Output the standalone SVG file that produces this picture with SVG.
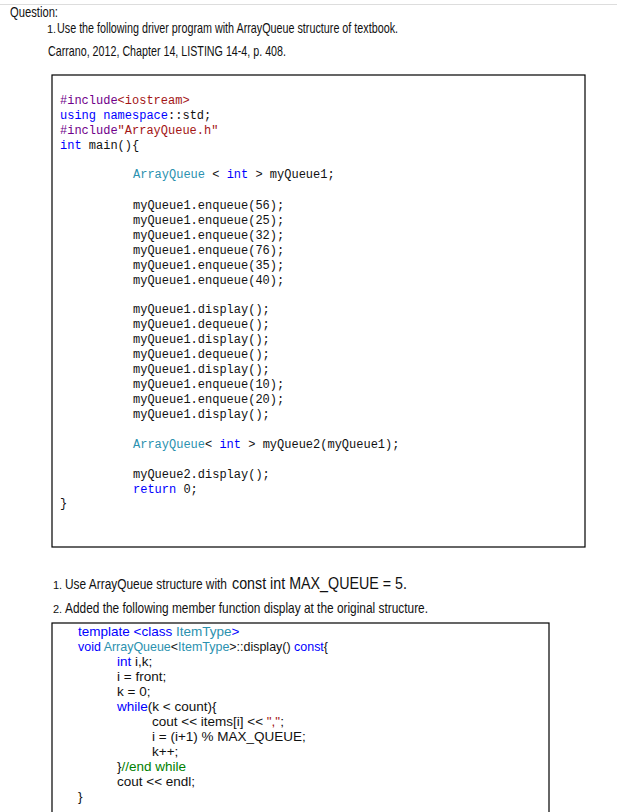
<svg xmlns="http://www.w3.org/2000/svg" width="617" height="812" viewBox="0 0 617 812">
<style>
.h{font-family:"Liberation Sans",Arial,sans-serif;font-size:15px;fill:#111}
.n{font-size:11px}
.m{font-family:"Liberation Mono","Courier New",monospace;font-size:12px;fill:#111}
.s{font-family:"Liberation Sans",Arial,sans-serif;font-size:13.5px;fill:#111}
.k{fill:#0000ff}.t{fill:#2b91af}.p{fill:#6f008a}.r{fill:#a31515}.g{fill:#008000}
.box{fill:#fff;stroke:#000;stroke-width:1.2}
</style>
<rect width="617" height="812" fill="#fff"/>
<line x1="0" y1="4.5" x2="617" y2="4.5" stroke="#ddd"/>
<g id="header">
<text class="h" x="10" y="17" textLength="48" lengthAdjust="spacingAndGlyphs">Question:</text>
<text class="h" x="47" y="33"><tspan class="n">1.</tspan></text>
<text class="h" x="57" y="33" textLength="341" lengthAdjust="spacingAndGlyphs">Use the following driver program with ArrayQueue structure of textbook.</text>
<text class="h" x="48" y="56" textLength="238" lengthAdjust="spacingAndGlyphs">Carrano, 2012, Chapter 14, LISTING 14-4, p. 408.</text>
</g>
<g id="driver">
<rect class="box" x="52" y="75" width="533" height="472"/>
<text class="m" x="60" y="104"><tspan class="p">#include</tspan><tspan class="r">&lt;iostream&gt;</tspan></text>
<text class="m" x="60" y="119"><tspan class="k">using namespace</tspan>::std;</text>
<text class="m" x="60" y="134"><tspan class="p">#include</tspan><tspan class="r">"ArrayQueue.h"</tspan></text>
<text class="m" x="60" y="149"><tspan class="k">int</tspan> main(){</text>
<text class="m" x="133" y="178"><tspan class="t">ArrayQueue</tspan> &lt; <tspan class="k">int</tspan> &gt; myQueue1;</text>
<text class="m" x="133" y="209">myQueue1.enqueue(56);</text>
<text class="m" x="133" y="224">myQueue1.enqueue(25);</text>
<text class="m" x="133" y="239">myQueue1.enqueue(32);</text>
<text class="m" x="133" y="254">myQueue1.enqueue(76);</text>
<text class="m" x="133" y="269">myQueue1.enqueue(35);</text>
<text class="m" x="133" y="284">myQueue1.enqueue(40);</text>
<text class="m" x="133" y="313">myQueue1.display();</text>
<text class="m" x="133" y="328">myQueue1.dequeue();</text>
<text class="m" x="133" y="343">myQueue1.display();</text>
<text class="m" x="133" y="358">myQueue1.dequeue();</text>
<text class="m" x="133" y="373">myQueue1.display();</text>
<text class="m" x="133" y="388">myQueue1.enqueue(10);</text>
<text class="m" x="133" y="403">myQueue1.enqueue(20);</text>
<text class="m" x="133" y="418">myQueue1.display();</text>
<text class="m" x="133" y="448"><tspan class="t">ArrayQueue</tspan>&lt; <tspan class="k">int</tspan> &gt; myQueue2(myQueue1);</text>
<text class="m" x="133" y="478">myQueue2.display();</text>
<text class="m" x="133" y="493"><tspan class="k">return</tspan> 0;</text>
<text class="m" x="60" y="507">}</text>
</g>
<g id="notes">
<text class="h" x="53" y="589"><tspan class="n">1.</tspan></text>
<text class="h" x="65" y="589" textLength="162" lengthAdjust="spacingAndGlyphs">Use ArrayQueue structure with</text>
<text class="h" x="232" y="589" style="font-size:17px" textLength="175" lengthAdjust="spacingAndGlyphs">const int MAX_QUEUE = 5.</text>
<text class="h" x="53" y="613"><tspan class="n">2.</tspan></text>
<text class="h" x="65" y="613" textLength="363" lengthAdjust="spacingAndGlyphs">Added the following member function display at the original structure.</text>
</g>
<g id="display">
<rect class="box" x="52" y="623" width="497" height="200"/>
<text class="s" x="78" y="636"><tspan class="k">template &lt;class </tspan><tspan class="t">ItemType</tspan><tspan class="k">&gt;</tspan></text>
<text class="s" x="78" y="651" textLength="250" lengthAdjust="spacingAndGlyphs"><tspan class="k">void</tspan>  <tspan class="t">ArrayQueue</tspan>&lt;<tspan class="t">ItemType</tspan>&gt;::display() <tspan class="k">const</tspan>{</text>
<text class="s" x="117" y="666"><tspan class="k">int</tspan> i,k;</text>
<text class="s" x="117" y="681">i = front;</text>
<text class="s" x="117" y="696">k = 0;</text>
<text class="s" x="117" y="711"><tspan class="k">while</tspan>(k &lt; count){</text>
<text class="s" x="152" y="726">cout &lt;&lt; items[i] &lt;&lt; <tspan class="r">","</tspan>;</text>
<text class="s" x="152" y="741">i = (i+1) % MAX_QUEUE;</text>
<text class="s" x="152" y="756">k++;</text>
<text class="s" x="117" y="771">}<tspan class="g">//end while</tspan></text>
<text class="s" x="117" y="786">cout &lt;&lt; endl;</text>
<text class="s" x="78" y="801">}</text>
</g>
</svg>
